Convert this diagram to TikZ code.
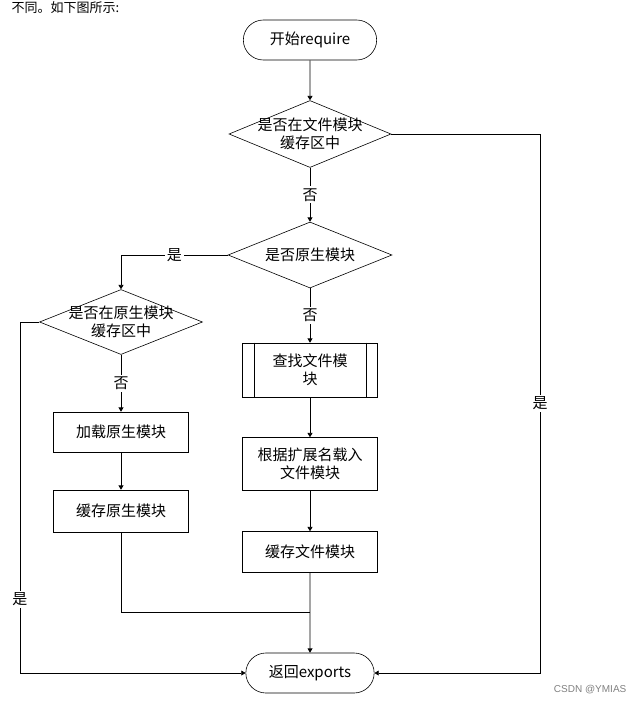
\documentclass[tikz,border=0pt]{standalone}
\usepackage{fontspec}
\newfontfamily\cjk{Noto Sans CJK SC}
\usetikzlibrary{shapes,arrows}
\usetikzlibrary{arrows.meta}
\usetikzlibrary{positioning}
\tikzset{%
  term/.style     = {draw, rounded rectangle, minimum width=135pt, minimum height=40pt},
  block/.style    = {draw, rectangle, minimum width=135pt, align=center},
  predef/.style   = {block, minimum height=54pt},
  decision/.style = {draw, diamond, aspect=2.45, inner sep=-12pt, align=center},
  lbl/.style      = {fill=white, inner sep=2pt}
}
\begin{document}
\begin{tikzpicture}[x=1pt, y=-1pt, >=Triangle, semithick, font=\cjk\fontsize{15}{18}\selectfont]
        \useasboundingbox (0,0) rectangle (641,705);
        \node[anchor=west, font=\cjk\fontsize{13}{15}\selectfont] (intro) at (8,8) {不同。如下图所示:};
        \draw
        node [term, name=Start, minimum width=140pt] at (310,40) {开始require}
        node [decision, name=CacheFile, minimum width=162pt, minimum height=67pt] at (310,134) {是否在文件模块\\缓存区中}
        node [decision, name=IsNative, minimum width=164pt, minimum height=66pt] at (310,255) {是否原生模块}
        node [decision, name=CacheNative, minimum width=163pt, minimum height=65pt] at (121,322) {是否在原生模块\\缓存区中}
        node [predef, name=FindFile] at (310,370) {查找文件模\\块}
        node [block, name=LoadExt, minimum height=53pt] at (310,464) {根据扩展名载入\\文件模块}
        node [block, name=SaveFile, minimum height=41pt] at (310,552) {缓存文件模块}
        node [block, name=LoadNative, minimum height=40pt] at (121,432) {加载原生模块}
        node [block, name=SaveNative, minimum height=42pt] at (121,511) {缓存原生模块}
        node [term, name=Return] at (310,673) {返回exports};
        \draw (FindFile.north west) ++(12,0) coordinate (fl1) -- (fl1 |- FindFile.south);
        \draw (FindFile.north east) ++(-12,0) coordinate (fr1) -- (fr1 |- FindFile.south);
        \coordinate (merge) at (310,612);
        \coordinate (rcorner) at (540,134);
        \coordinate (lcorner) at (20,322);
        \coordinate (ncorner) at (121,255);
        \draw[->] (Start) -- (CacheFile);
        \draw[->] (CacheFile) -- node[lbl]{否} (IsNative);
        \draw[->] (IsNative) -- node[lbl]{否} (FindFile);
        \draw[->] (IsNative.west) -- node[lbl]{是} (ncorner) -- (CacheNative.north);
        \draw[->] (CacheNative) -- node[lbl]{否} (LoadNative);
        \draw[->] (LoadNative) -- (SaveNative);
        \draw[->] (FindFile) -- (LoadExt);
        \draw[->] (LoadExt) -- (SaveFile);
        \draw[->] (SaveFile) -- (Return);
        \draw (SaveNative) |- (merge);
        \draw[->] (CacheFile.east) -- (rcorner) -- node[lbl, pos=0.5]{是} (rcorner |- Return) -- (Return.east);
        \draw[->] (CacheNative.west) -- (lcorner) -- node[lbl, pos=0.79]{是} (lcorner |- Return) -- (Return.west);
        \node[anchor=east, text=gray, font=\fontspec{Liberation Sans}\fontsize{10}{12}\selectfont] (mark) at (630,690) {CSDN @YMIAS};
\end{tikzpicture}
\end{document}
